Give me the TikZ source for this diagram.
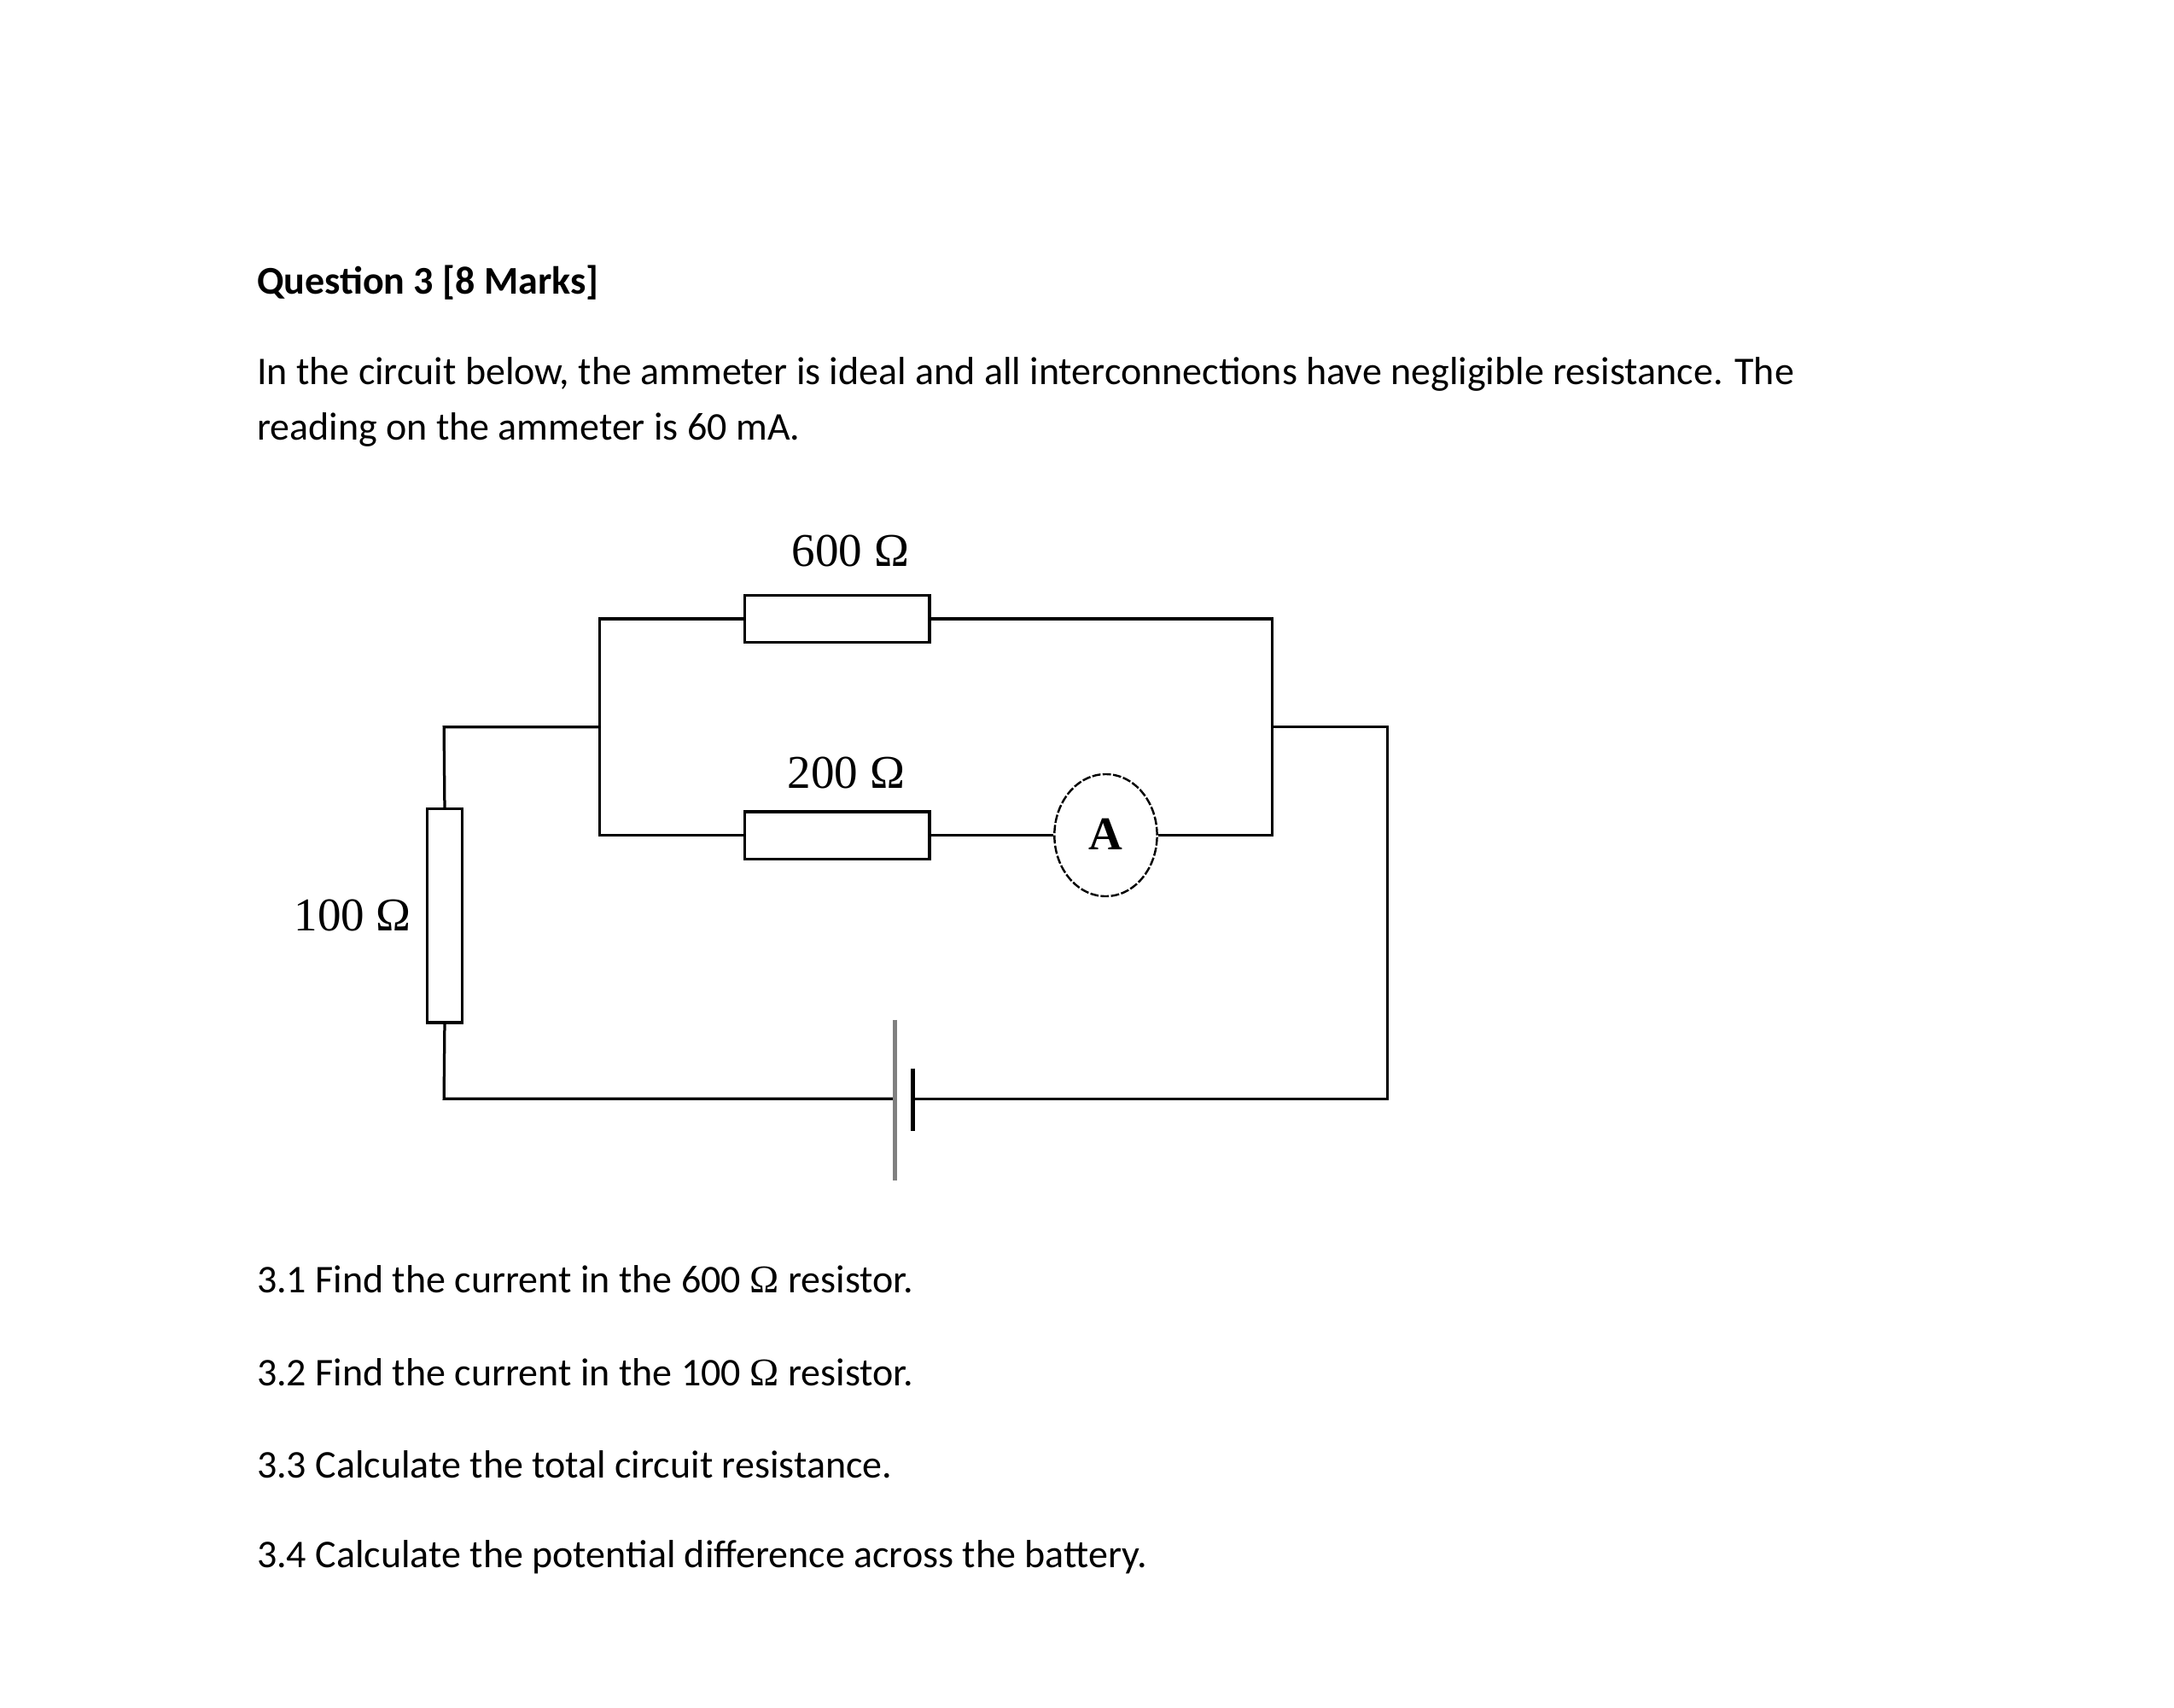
\documentclass[tikz,border=0pt]{standalone}
\usepackage{fontspec}
\usetikzlibrary{shapes.geometric}
\setmainfont{Carlito}
\newfontfamily\serifc{Liberation Serif}
\begin{document}
\begin{tikzpicture}[x=1bp,y=-1bp,
  wire/.style={line width=2bp},
  res/.style={draw,line width=2bp,fill=white,minimum width=133bp,minimum height=34bp,inner sep=0},
  lbl/.style={font=\fontsize{34}{36}\selectfont\serifc},
  txt/.style={anchor=base west,inner sep=0,font=\fontsize{28.4}{30}\selectfont}]
\useasboundingbox (0,0) rectangle (1567,1231);
\node[txt,font=\fontsize{28.4}{30}\selectfont\bfseries] (title) at (185,212) {Question 3 [8 Marks]};
\node[txt] (p1) at (185,277) {In the circuit below, the ammeter is ideal and all interconnections have negligible resistance. The};
\node[txt] (p2) at (185,317) {reading on the ammeter is 60 mA.};
% components
\node[res] (r600) at (603.5,446) {};
\node[res] (r200) at (603.5,602) {};
\node[draw,line width=1.5bp,dashed,dash pattern=on 6bp off 1.5bp,ellipse,minimum width=74bp,minimum height=88bp,inner sep=0] (am) at (797,602) {};
\node[lbl,font=\fontsize{34}{36}\selectfont\serifc\bfseries] at (797,601) {A};
\node[draw,line width=2bp,fill=white,minimum width=25bp,minimum height=154bp,inner sep=0] (r100) at (320.5,660) {};
\node[lbl] (l600) at (613,397) {600 Ω};
\node[lbl] (l200) at (610,557) {200 Ω};
\node[lbl,anchor=east] (l100) at (300,660) {100 Ω};
\coordinate (tl) at (432,446); \coordinate (tr) at (917,446);
\coordinate (bl) at (432,602); \coordinate (br) at (917,602);
\coordinate (jl) at (432,524); \coordinate (jr) at (917,524);
\coordinate (ol) at (320,524); \coordinate (or) at (1000,524);
\coordinate (dl) at (320,792); \coordinate (dr) at (1000,792);
\coordinate (bp1) at (645,792); \coordinate (bp2) at (658,792);
\draw[wire] (r600.west) -- (tl) -- (bl) -- (r200.west);
\draw[wire] (r600.east) -- (tr) -- (br) -- (am.east);
\draw[wire] (r200.east) -- (am.west);
\draw[wire] (jl) -- (ol) -- (r100.north);
\draw[wire] (r100.south) -- (dl) -- (bp1);
\draw[wire] (bp2) -- (dr) -- (or) -- (jr);
\draw[line width=3bp,gray] (645,735) -- (645,851);
\draw[line width=3.5bp] (658,770) -- (658,815);
\node[txt] (q1) at (185,932) {3.1 Find the current in the 600 {\serifc Ω} resistor.};
\node[txt] (q2) at (185,999) {3.2 Find the current in the 100 {\serifc Ω} resistor.};
\node[txt] (q3) at (185,1065) {3.3 Calculate the total circuit resistance.};
\node[txt] (q4) at (185,1130) {3.4 Calculate the potential difference across the battery.};
\end{tikzpicture}
\end{document}
